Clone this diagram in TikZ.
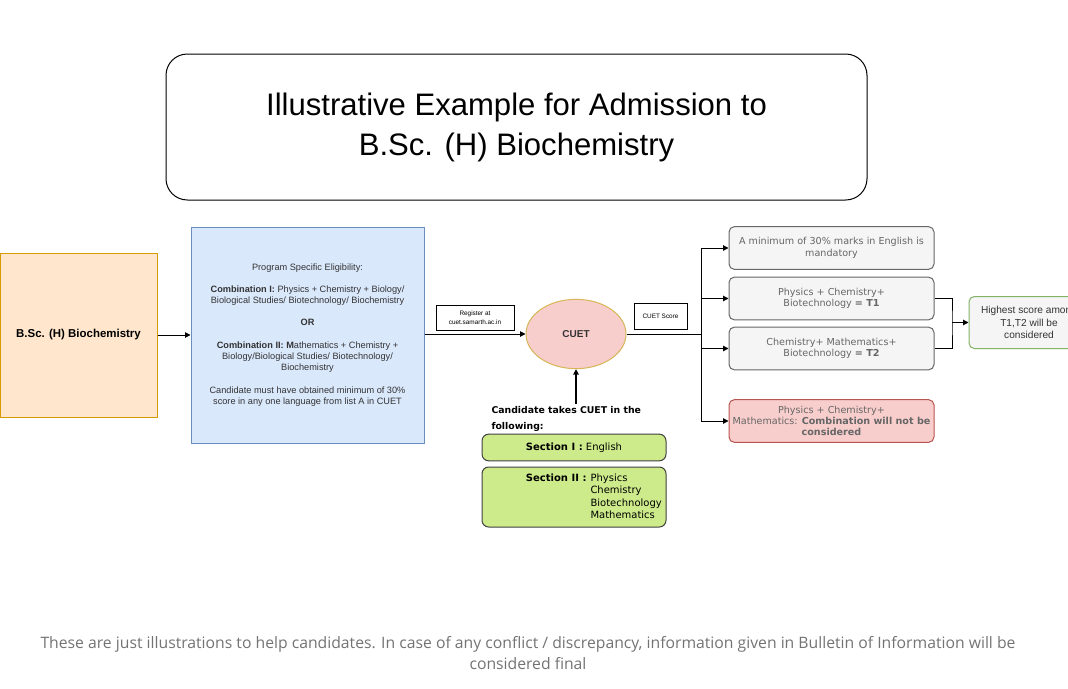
\documentclass[tikz,border=0pt]{standalone}
\usepackage{fontspec}
\setmainfont{Liberation Sans}
\newfontfamily\verd{DejaVu Sans}
\newfontfamily\opsans{Open Sans}
\usetikzlibrary{shapes.geometric,arrows.meta}
\definecolor{orfill}{HTML}{FFE6CC}
\definecolor{ordraw}{HTML}{D79B00}
\definecolor{blfill}{HTML}{DAE8FC}
\definecolor{bldraw}{HTML}{6C8EBF}
\definecolor{rdfill}{HTML}{F8CECC}
\definecolor{rddraw}{HTML}{B85450}
\definecolor{gyfill}{HTML}{F5F5F5}
\definecolor{gydraw}{HTML}{666666}
\definecolor{gnfill}{HTML}{CDEB8B}
\definecolor{gndraw}{HTML}{82B366}
\definecolor{yldraw}{HTML}{D6B656}
\tikzset{every picture/.style={line width=0.75pt}}
\tikzset{
  grybox/.style={draw=gydraw,fill=gyfill,rounded corners=4pt,minimum width=153.75pt,minimum height=32pt,align=center,text=gydraw,font=\verd\fontsize{7.2}{8.6}\selectfont,inner sep=0.75pt},
  sectbox/.style={draw=black!75,fill=gnfill,rounded corners=5pt,minimum width=138pt,inner sep=1.5pt},
  arr/.style={-{Triangle[length=4pt,width=4pt]}}
}
\begin{document}
\begin{tikzpicture}[x=0.75pt,y=0.75pt,yscale=-1,xscale=1]
\useasboundingbox (0,0) rectangle (1068,689);
\begin{scope}
\clip (0,0) rectangle (1068,689);

%Title
\draw[rounded corners=16pt] (166,54) rectangle (867,200);
\node[align=center,font=\fontsize{23.3}{30}\selectfont] (title) at (516.5,127) {Illustrative Example for Admission to\\B.Sc. (H) Biochemistry};

%Shape: Rectangle
\node[draw=ordraw,fill=orfill,minimum width=117.75pt,minimum height=123pt,font=\bfseries\fontsize{8.6}{10}\selectfont,inner sep=0pt] (course) at (78.5,335) {B.Sc. (H) Biochemistry};
%Shape: Rectangle
\node[draw=bldraw,fill=blfill,minimum width=174.75pt,minimum height=162pt,align=center,font=\fontsize{6.9}{8.6}\selectfont,inner sep=0pt,text=black!80] (elig) at (307.5,335) {Program Specific Eligibility:\\[8pt]
\textbf{Combination I:} Physics + Chemistry + Biology/\\Biological Studies/ Biotechnology/ Biochemistry\\[8pt]
\textbf{OR}\\[8pt]
\textbf{Combination II: M}athematics + Chemistry +\\Biology/Biological Studies/ Biotechnology/\\Biochemistry\\[8pt]
Candidate must have obtained minimum of 30\%\\score in any one language from list A in CUET};

%Ellipse
\node[ellipse,draw=yldraw,fill=rdfill,minimum width=75pt,minimum height=52pt,font=\bfseries\fontsize{7.5}{9}\selectfont,text=black!80] (cuet) at (576,334) {CUET};

% Text Node
\node[draw,fill=white,align=center,font=\fontsize{4.8}{7}\selectfont,minimum width=58.5pt,minimum height=19pt,inner sep=0.5pt] (reg) at (475,318) {Register at\\cuet.samarth.ac.in};
% Text Node
\node[draw,fill=white,font=\fontsize{4.8}{6}\selectfont,minimum width=39.75pt,minimum height=20pt,inner sep=0.5pt] (score) at (660.5,316.5) {CUET Score};

%Right boxes
\node[grybox] (eng) at (831.5,248) {A minimum of 30\% marks in English is\\mandatory};
\node[grybox] (tone) at (831.5,298.5) {Physics + Chemistry+\\Biotechnology \textbf{= T1}};
\node[grybox] (ttwo) at (831.5,348.5) {Chemistry+ Mathematics+\\Biotechnology \textbf{= T2}};
\node[grybox,draw=rddraw,fill=rdfill,font=\verd\fontsize{7.2}{8}\selectfont] (nocomb) at (831.5,421) {Physics + Chemistry+\\Mathematics: \textbf{Combination will not be}\\\textbf{considered}};
\node[draw=gndraw,fill=gyfill,rounded corners=4pt,minimum width=90pt,minimum height=39pt,align=center,font=\fontsize{7.6}{9.2}\selectfont,text=black!80,inner sep=0.5pt] (high) at (1029,322.5) {Highest score among\\T1,T2 will be\\considered};

%Sections
\node[anchor=north west,align=left,font=\verd\bfseries\fontsize{7}{12}\selectfont,inner sep=0pt] (takes) at (491,406) {Candidate takes CUET in the\\following:};
\node[sectbox,minimum height=20pt,font=\verd\fontsize{7.5}{8}\selectfont] (secone) at (574,447.5) {\textbf{Section I :} English};
\node[sectbox,minimum height=45pt,anchor=north] (sectwo) at (574,466.5) {};
\node[anchor=north east,font=\verd\bfseries\fontsize{7.5}{8}\selectfont,inner sep=0pt] (sectwol) at (587,473) {Section II :};
\node[anchor=north west,align=left,font=\verd\fontsize{7.5}{9.4}\selectfont,inner sep=0pt] (sectwor) at (590,473) {Physics\\Chemistry\\Biotechnology\\Mathematics};
\coordinate (takestop) at (576,404);

%Connectors
\draw[arr] (course) -- (elig);
\draw[arr] (elig.east |- cuet) -- (cuet);
\draw[arr,line width=1.2pt] (takestop) -- (cuet.south);
\coordinate (fork) at (701,334);
\draw (cuet.east) -- (fork);
\draw (fork |- eng) -- (fork |- nocomb);
\foreach \b in {eng,tone,ttwo,nocomb}
  \draw[arr] (fork |- \b) -- (\b.west);
\coordinate (join) at (952,322.5);
\draw (tone.east) -| (join) |- (ttwo.east);
\draw[arr] (join) -- (high.west);
\end{scope}

% Footer
\node[align=center,text=black!55,font=\opsans\fontsize{11.8}{16}\selectfont] (foot) at (528,653) {These are just illustrations to help candidates. In case of any conflict / discrepancy, information given in Bulletin of Information will be\\considered final};
\end{tikzpicture}
\end{document}
